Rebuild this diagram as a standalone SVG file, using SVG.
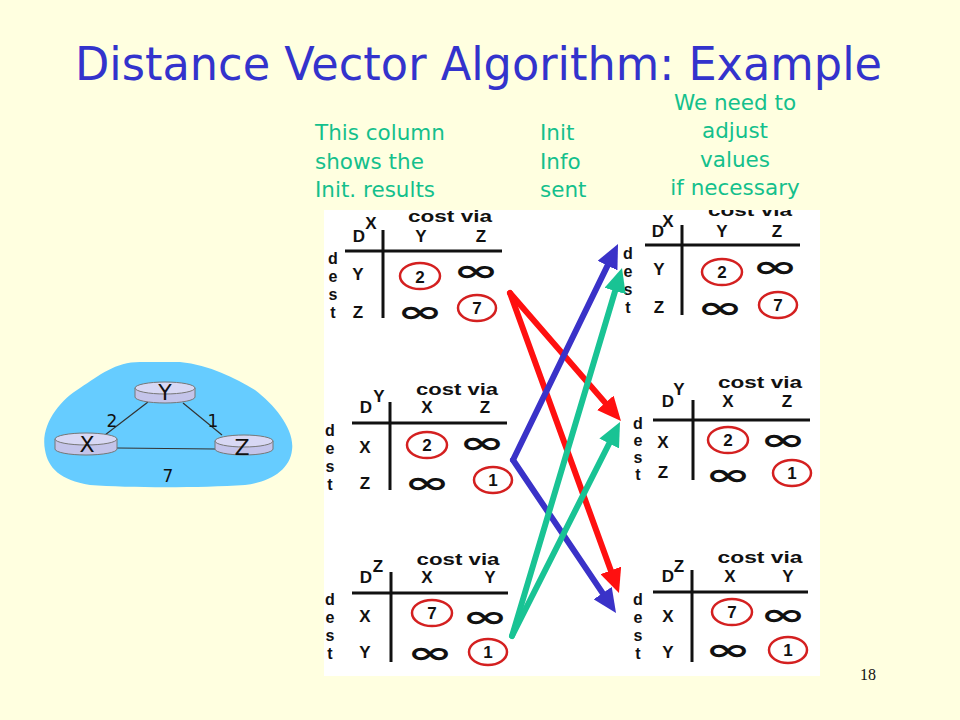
<svg xmlns="http://www.w3.org/2000/svg" width="960" height="720" viewBox="0 0 960 720">
<defs>
<style>
.title{font-family:"DejaVu Sans",sans-serif;font-size:46px;fill:#3333CC}
.lbl{font-family:"DejaVu Sans",sans-serif;font-size:21.5px;fill:#14C08C}
.t{font-family:"Liberation Sans",Arial,sans-serif;font-weight:bold;font-size:17px;fill:#111;text-anchor:middle}
.d{font-family:"Liberation Sans",Arial,sans-serif;font-weight:bold;font-size:16px;fill:#111;text-anchor:middle}
.inf{font-family:"DejaVu Sans",sans-serif;font-weight:bold;font-size:30px;fill:#111;text-anchor:middle}
.ln{stroke:#111;stroke-width:3;fill:none}
.cir{fill:none;stroke:#D42020;stroke-width:2.5}
.net{font-family:"DejaVu Sans",sans-serif;fill:#111;text-anchor:middle}
.edge{stroke:#333;stroke-width:1.2}
.rt{fill:#C4C4EA;stroke:#777;stroke-width:1}
.rtop{fill:#D8D8F4;stroke:#777;stroke-width:1}
.arr{stroke-width:6;fill:none;stroke-linecap:round}
</style>
<marker id="mr" markerUnits="userSpaceOnUse" markerWidth="24" markerHeight="22" viewBox="0 0 24 22" refX="10" refY="11" orient="auto"><path d="M0,0 L24,11 L0,22 z" fill="#FF1010"/></marker>
<marker id="mb" markerUnits="userSpaceOnUse" markerWidth="24" markerHeight="22" viewBox="0 0 24 22" refX="10" refY="11" orient="auto"><path d="M0,0 L24,11 L0,22 z" fill="#3A32C8"/></marker>
<marker id="mg" markerUnits="userSpaceOnUse" markerWidth="24" markerHeight="22" viewBox="0 0 24 22" refX="10" refY="11" orient="auto"><path d="M0,0 L24,11 L0,22 z" fill="#19C394"/></marker>
<clipPath id="panel"><rect x="324" y="210" width="496" height="466"/></clipPath>
</defs>
<rect width="960" height="720" fill="#FFFFE0"/>
<text class="title" x="75" y="80" textLength="807" lengthAdjust="spacingAndGlyphs">Distance Vector Algorithm: Example</text>

<g id="labels">
<text class="lbl" x="315" y="140">This column</text>
<text class="lbl" x="315" y="169">shows the</text>
<text class="lbl" x="315" y="197">Init. results</text>
<text class="lbl" x="540" y="140">Init</text>
<text class="lbl" x="540" y="169">Info</text>
<text class="lbl" x="540" y="197">sent</text>
<text class="lbl" x="735" y="110" text-anchor="middle">We need to</text>
<text class="lbl" x="735" y="138" text-anchor="middle">adjust</text>
<text class="lbl" x="735" y="167" text-anchor="middle">values</text>
<text class="lbl" x="735" y="195" text-anchor="middle">if necessary</text>
</g>

<g id="network">
<path d="M45,450 C40,425 60,400 80,388 C100,375 115,362 140,362 L180,362 C210,365 235,378 255,390 C275,405 295,430 292,450 C290,470 270,482 245,485 C200,488 130,488 90,485 C60,480 48,468 45,450 Z" fill="#66CCFF"/>
<line class="edge" x1="148" y1="402" x2="105" y2="435"/>
<line class="edge" x1="183" y1="403" x2="222" y2="435"/>
<line class="edge" x1="117" y1="448" x2="215" y2="449"/>
<g id="router-y"><path class="rt" d="M135,388 L135,397 A30,6 0 0 0 195,397 L195,388 Z"/><ellipse class="rtop" cx="165" cy="388" rx="30" ry="6"/><text class="net" x="165" y="400" font-size="22">Y</text></g>
<g id="router-x"><path class="rt" d="M55,439 L55,449 A31,6 0 0 0 117,449 L117,439 Z"/><ellipse class="rtop" cx="86" cy="439" rx="31" ry="6"/><text class="net" x="87" y="452" font-size="22">X</text></g>
<g id="router-z"><path class="rt" d="M215,441 L215,449 A29,6 0 0 0 273,449 L273,441 Z"/><ellipse class="rtop" cx="244" cy="441" rx="29" ry="6"/><text class="net" x="242" y="455" font-size="22">Z</text></g>
<text class="net" x="112" y="427" font-size="17">2</text>
<text class="net" x="213" y="427" font-size="17">1</text>
<text class="net" x="168" y="482" font-size="17">7</text>
</g>

<rect x="324" y="210" width="496" height="466" fill="#FFFFFF"/>

<g id="table-x-init">
<text class="t" x="450" y="222" textLength="84" lengthAdjust="spacingAndGlyphs">cost via</text>
<text class="t" x="371" y="229">X</text><text class="t" x="359" y="242">D</text>
<text class="t" x="421" y="242">Y</text><text class="t" x="481" y="242">Z</text>
<line class="ln" x1="345" y1="251" x2="502" y2="251"/><line class="ln" x1="383" y1="230" x2="383" y2="318"/>
<text class="d" x="333" y="264">d</text><text class="d" x="333" y="282">e</text><text class="d" x="333" y="300">s</text><text class="d" x="333" y="318">t</text>
<text class="t" x="358" y="280">Y</text><text class="t" x="358" y="318">Z</text>
<ellipse class="cir" cx="420" cy="276" rx="20" ry="13"/><text class="t" x="420" y="283">2</text>
<text class="inf" x="476" y="281" textLength="46" lengthAdjust="spacingAndGlyphs">∞</text>
<text class="inf" x="420" y="322" textLength="46" lengthAdjust="spacingAndGlyphs">∞</text>
<ellipse class="cir" cx="477" cy="308" rx="19" ry="13"/><text class="t" x="477" y="314">7</text>
</g>

<g id="table-y-init">
<text class="t" x="457" y="395" textLength="82" lengthAdjust="spacingAndGlyphs">cost via</text>
<text class="t" x="379" y="402">Y</text><text class="t" x="366" y="413">D</text>
<text class="t" x="427" y="413">X</text><text class="t" x="485" y="413">Z</text>
<line class="ln" x1="352" y1="423" x2="507" y2="423"/><line class="ln" x1="390" y1="402" x2="390" y2="490"/>
<text class="d" x="330" y="436">d</text><text class="d" x="330" y="454">e</text><text class="d" x="330" y="472">s</text><text class="d" x="330" y="490">t</text>
<text class="t" x="365" y="453">X</text><text class="t" x="365" y="489">Z</text>
<ellipse class="cir" cx="427" cy="445" rx="20" ry="13"/><text class="t" x="427" y="451">2</text>
<text class="inf" x="482" y="453" textLength="46" lengthAdjust="spacingAndGlyphs">∞</text>
<text class="inf" x="427" y="493" textLength="46" lengthAdjust="spacingAndGlyphs">∞</text>
<ellipse class="cir" cx="493" cy="480" rx="19" ry="13"/><text class="t" x="493" y="486">1</text>
</g>

<g id="table-z-init">
<text class="t" x="458" y="565" textLength="83" lengthAdjust="spacingAndGlyphs">cost via</text>
<text class="t" x="378" y="572">Z</text><text class="t" x="366" y="583">D</text>
<text class="t" x="427" y="583">X</text><text class="t" x="490" y="583">Y</text>
<line class="ln" x1="352" y1="593" x2="508" y2="593"/><line class="ln" x1="391" y1="572" x2="391" y2="662"/>
<text class="d" x="330" y="605">d</text><text class="d" x="330" y="623">e</text><text class="d" x="330" y="641">s</text><text class="d" x="330" y="659">t</text>
<text class="t" x="365" y="622">X</text><text class="t" x="365" y="658">Y</text>
<ellipse class="cir" cx="432" cy="613" rx="20" ry="13"/><text class="t" x="432" y="619">7</text>
<text class="inf" x="485" y="627" textLength="46" lengthAdjust="spacingAndGlyphs">∞</text>
<text class="inf" x="430" y="663" textLength="46" lengthAdjust="spacingAndGlyphs">∞</text>
<ellipse class="cir" cx="488" cy="652" rx="19" ry="13"/><text class="t" x="488" y="658">1</text>
</g>

<g id="table-x-new">
<text class="t" x="750" y="216" textLength="84" lengthAdjust="spacingAndGlyphs" clip-path="url(#panel)">cost via</text>
<text class="t" x="668" y="227">X</text><text class="t" x="658" y="237">D</text>
<text class="t" x="722" y="237">Y</text><text class="t" x="777" y="237">Z</text>
<line class="ln" x1="645" y1="245" x2="800" y2="245"/><line class="ln" x1="682" y1="225" x2="682" y2="315"/>
<text class="d" x="628" y="259">d</text><text class="d" x="628" y="277">e</text><text class="d" x="628" y="295">s</text><text class="d" x="628" y="313">t</text>
<text class="t" x="659" y="275">Y</text><text class="t" x="659" y="313">Z</text>
<ellipse class="cir" cx="722" cy="272" rx="20" ry="13"/><text class="t" x="722" y="278">2</text>
<text class="inf" x="775" y="277" textLength="46" lengthAdjust="spacingAndGlyphs">∞</text>
<text class="inf" x="720" y="318" textLength="46" lengthAdjust="spacingAndGlyphs">∞</text>
<ellipse class="cir" cx="778" cy="305" rx="19" ry="13"/><text class="t" x="778" y="311">7</text>
</g>

<g id="table-y-new">
<text class="t" x="760" y="388" textLength="84" lengthAdjust="spacingAndGlyphs">cost via</text>
<text class="t" x="679" y="395">Y</text><text class="t" x="668" y="407">D</text>
<text class="t" x="728" y="407">X</text><text class="t" x="787" y="407">Z</text>
<line class="ln" x1="653" y1="420" x2="810" y2="420"/><line class="ln" x1="693" y1="400" x2="693" y2="480"/>
<text class="d" x="638" y="429">d</text><text class="d" x="638" y="446">e</text><text class="d" x="638" y="463">s</text><text class="d" x="638" y="480">t</text>
<text class="t" x="663" y="448">X</text><text class="t" x="663" y="478">Z</text>
<ellipse class="cir" cx="728" cy="440" rx="20" ry="13"/><text class="t" x="728" y="446">2</text>
<text class="inf" x="783" y="450" textLength="46" lengthAdjust="spacingAndGlyphs">∞</text>
<text class="inf" x="728" y="485" textLength="46" lengthAdjust="spacingAndGlyphs">∞</text>
<ellipse class="cir" cx="792" cy="473" rx="19" ry="13"/><text class="t" x="792" y="479">1</text>
</g>

<g id="table-z-new">
<text class="t" x="760" y="563" textLength="85" lengthAdjust="spacingAndGlyphs">cost via</text>
<text class="t" x="679" y="572">Z</text><text class="t" x="668" y="582">D</text>
<text class="t" x="730" y="582">X</text><text class="t" x="788" y="582">Y</text>
<line class="ln" x1="653" y1="592" x2="808" y2="592"/><line class="ln" x1="692" y1="570" x2="692" y2="662"/>
<text class="d" x="638" y="605">d</text><text class="d" x="638" y="623">e</text><text class="d" x="638" y="641">s</text><text class="d" x="638" y="659">t</text>
<text class="t" x="668" y="622">X</text><text class="t" x="668" y="658">Y</text>
<ellipse class="cir" cx="732" cy="612" rx="20" ry="13"/><text class="t" x="732" y="618">7</text>
<text class="inf" x="783" y="625" textLength="46" lengthAdjust="spacingAndGlyphs">∞</text>
<text class="inf" x="728" y="660" textLength="46" lengthAdjust="spacingAndGlyphs">∞</text>
<ellipse class="cir" cx="788" cy="650" rx="19" ry="13"/><text class="t" x="788" y="656">1</text>
</g>

<g id="connectors">
<line class="arr" stroke="#FF1010" x1="510" y1="293" x2="611.8" y2="410.4" marker-end="url(#mr)"/>
<line class="arr" stroke="#FF1010" x1="510" y1="293" x2="614.2" y2="579.8" marker-end="url(#mr)"/>
<line class="arr" stroke="#3A32C8" x1="513" y1="460" x2="611.9" y2="256.6" marker-end="url(#mb)"/>
<line class="arr" stroke="#3A32C8" x1="513" y1="460" x2="608.2" y2="601.4" marker-end="url(#mb)"/>
<line class="arr" stroke="#19C394" x1="512" y1="636" x2="618" y2="281.4" marker-end="url(#mg)"/>
<line class="arr" stroke="#19C394" x1="512" y1="636" x2="613.7" y2="434.5" marker-end="url(#mg)"/>
</g>

<text x="868" y="680" font-family="Liberation Serif,serif" font-size="16" fill="#111" text-anchor="middle">18</text>
</svg>
